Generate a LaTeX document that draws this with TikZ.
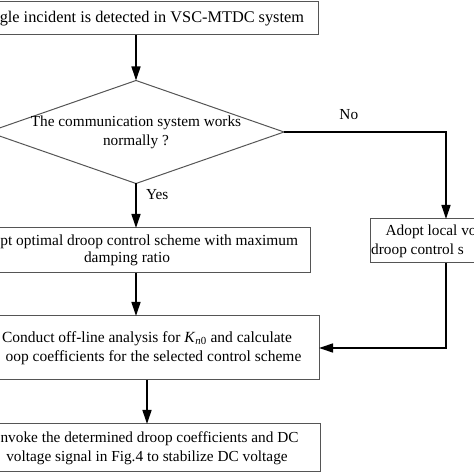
\documentclass[tikz,border=0pt]{standalone}
\usepackage{fontspec}
\setmainfont{Liberation Serif}
\usetikzlibrary{positioning,shapes.geometric,arrows.meta}
\definecolor{edgegray}{RGB}{85,85,85}

\begin{document}
\begin{tikzpicture}
[x=1pt,y=1pt,
 every node/.style={inner sep=0pt,outer sep=0pt,align=center,font=\fontsize{15.3}{19}\selectfont},
 box/.style={rectangle,draw=edgegray,line width=1pt},
 test/.style={diamond,draw=edgegray,line width=1pt,shape aspect=2.874,inner sep=-3pt,minimum width=296pt,minimum height=103pt},
 flow/.style={->,line width=1.3pt},
 >={Triangle[length=14pt,width=9pt]}]

\useasboundingbox (0,0) rectangle (474,474);
\clip (0,0) rectangle (474,474);

% boxes
\node[box,minimum width=354pt,minimum height=33pt,font=\fontsize{16.3}{19}\selectfont] (detect) at (141,455.5)
  {\phantom{Sin}gle incident is detected in VSC-MTDC system};
\node[test] (check) [on grid,below left=113.5pt and 5pt of detect]
  {The communication system works\\normally ?};
\node[box,minimum width=348pt,minimum height=45pt,font=\fontsize{15.4}{17.5}\selectfont] (optimal) [on grid,below=118.5pt of check]
  {\phantom{Ado}pt optimal droop control scheme with maximum\\damping ratio\hspace*{18pt}};
\node[box,minimum width=152pt,minimum height=44pt] (local) [on grid,below right=109pt and 310pt of check]
  {Adopt local vo\phantom{ltage}\\droop control s\phantom{cheme}\hspace*{17pt}};
\node[box,minimum width=344pt,minimum height=64pt,font=\fontsize{15.5}{19}\selectfont] (offline) [on grid,below right=97.5pt and 11pt of optimal]
  {Conduct off-line analysis for \textit{K}\textsubscript{\textit{n}0} and calculate\\\phantom{dr}oop coefficients for the selected control scheme};
\node[box,minimum width=346pt,minimum height=48pt] (invoke) [on grid,below=100pt of offline]
  {\phantom{I}nvoke the determined droop coefficients and DC\\voltage signal in Fig.4 to stabilize DC voltage};

% connectors
\draw[flow] (detect.south -| check.north) -- (check.north);
\draw[flow] (check.south) -- node[pos=0.25,right=10pt] {Yes} (optimal.north);
\draw[flow] (check.east) -| node[pos=0.2,above=12pt] {No} (local.north);
\draw[flow] (optimal.south) -- (optimal.south |- offline.north);
\draw[flow] (local.south) |- (offline.east);
\draw[flow] (offline.south) -- (invoke.north);

\end{tikzpicture}
\end{document}
